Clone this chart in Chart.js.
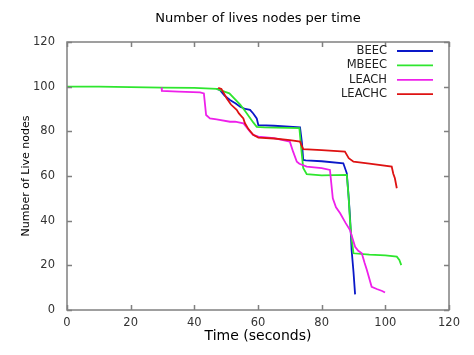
<!DOCTYPE html>
<html>
<head>
<meta charset="utf-8">
<script src="https://cdn.jsdelivr.net/npm/chart.js@4.4.1/dist/chart.umd.min.js"></script>
<style>
  html, body { margin: 0; padding: 0; background: #fff; }
  #wrap { width: 474px; height: 355px; }
</style>
</head>
<body>
<div id="wrap"><canvas id="c" width="474" height="355"></canvas></div>
<script>
// ---- data ----
const seriesNames = ["BEEC", "MBEEC", "LEACH", "LEACHC"];
const xTicks = [0, 20, 40, 60, 80, 100, 120];
const yTicks = [0, 20, 40, 60, 80, 100, 120];

const beecT = [47, 48, 49.5, 51.2, 53, 54.4, 56, 57.5, 58.5, 59.6, 60.1, 65, 73.2, 73.8, 74.2, 75, 80, 86.8, 87.9, 88.4, 88.9, 89.4, 90, 90.5];
const beecN = [99, 98.5, 96, 94, 92.5, 91, 90, 89.6, 88, 85.8, 82.8, 82.5, 81.8, 75, 67.2, 67, 66.6, 65.7, 61.2, 52, 41.8, 27, 17, 7];

const mbeecT = [0, 10, 20, 30, 40, 47, 49, 51, 54.4, 56, 58.5, 59.6, 62, 73, 73.6, 74.2, 75.3, 80, 87.9, 88.5, 88.9, 89.4, 90, 95, 100, 103.6, 104.4, 105];
const mbeecN = [100, 100, 99.8, 99.6, 99.5, 99, 98, 97, 92, 89, 84, 82, 81.8, 81.4, 72, 63.6, 60.8, 60.3, 60.5, 50, 40, 32, 25.4, 24.8, 24.5, 23.9, 22.4, 20.1];

const leachT = [29.7, 29.8, 35, 41.8, 43, 43.7, 44.9, 47, 51.2, 52.8, 55.4, 57.5, 58.5, 60.1, 65, 70, 71, 72.2, 73, 75.3, 80, 82.6, 83.5, 84.5, 85.8, 87.5, 88.9, 90.5, 91.5, 92.6, 93.5, 94.2, 95.7, 97.3, 99, 99.9];
const leachN = [99.6, 98.1, 97.8, 97.4, 97, 87.3, 85.8, 85.4, 84.3, 84.3, 83.6, 79.9, 78.4, 77.6, 77, 75.4, 71, 66.4, 65.5, 64.2, 63.5, 62.7, 50, 46, 43.3, 39, 35.8, 28.3, 26.5, 25.4, 21, 17.9, 10.4, 9.4, 8.5, 7.8];

const leachcT = [47.5, 48.5, 50.2, 51.5, 53.3, 54, 55.4, 55.9, 57, 58.5, 60.1, 65, 70, 73.2, 74.2, 80, 87.3, 88.5, 90, 95, 102, 102.5, 103, 103.6];
const leachcN = [99.5, 99, 94.7, 92, 89.6, 88, 85.8, 83.6, 81, 78.4, 77.2, 76.8, 76.1, 75.4, 72, 71.6, 70.9, 68, 66.4, 65.5, 64.2, 61, 59, 54.5];

const colors = ["#0a18c8", "#2ee62e", "#ee20ea", "#de1212"];

function pts(t, n) { return t.map((x, i) => ({ x: x, y: n[i] })); }

const allT = [beecT, mbeecT, leachT, leachcT];
const allN = [beecN, mbeecN, leachN, leachcN];

const datasets = seriesNames.map((name, i) => ({
  label: name,
  data: pts(allT[i], allN[i]),
  borderColor: colors[i],
  backgroundColor: colors[i],
  borderWidth: 1.8,
  pointRadius: 0,
  tension: 0,
  fill: false,
  showLine: true,
  order: 4 - i
}));

const FONT = "'DejaVu Sans', sans-serif";

const framePlugin = {
  id: 'frame',
  afterDraw(chart) {
    const ctx = chart.ctx;
    const a = chart.chartArea;
    const xs = chart.scales.x, ys = chart.scales.y;
    ctx.save();
    ctx.strokeStyle = '#808080';
    ctx.lineWidth = 1.5;
    ctx.strokeRect(a.left, a.top, a.right - a.left, a.bottom - a.top);
    ctx.beginPath();
    xTicks.forEach(v => {
      const px = Math.round(xs.getPixelForValue(v)) + 0.5;
      ctx.moveTo(px, a.bottom); ctx.lineTo(px, a.bottom - 5);
      ctx.moveTo(px, a.top); ctx.lineTo(px, a.top + 5);
    });
    yTicks.forEach(v => {
      const py = Math.round(ys.getPixelForValue(v)) + 0.5;
      ctx.moveTo(a.left, py); ctx.lineTo(a.left + 5, py);
      ctx.moveTo(a.right, py); ctx.lineTo(a.right - 5, py);
    });
    ctx.stroke();
    ctx.fillStyle = '#000';
    ctx.font = '13px ' + FONT;
    ctx.textAlign = 'center';
    ctx.textBaseline = 'middle';
    ctx.fillText('Number of lives nodes per time', (a.left + a.right) / 2, 19);
    ctx.font = '11.5px ' + FONT;
    ctx.textAlign = 'right';
    chart.data.datasets.forEach((ds, i) => {
      const y = 51 + i * 14.4;
      ctx.fillStyle = '#222';
      ctx.fillText(ds.label, 387, y);
      ctx.strokeStyle = ds.borderColor;
      ctx.lineWidth = 1.8;
      ctx.beginPath();
      ctx.moveTo(397, y); ctx.lineTo(433, y);
      ctx.stroke();
    });
    ctx.restore();
  }
};

new Chart(document.getElementById('c'), {
  type: 'scatter',
  data: { datasets: datasets },
  options: {
    responsive: false,
    animation: false,
    devicePixelRatio: 1,
    layout: { padding: { top: 42, right: 25, left: 0, bottom: 0 } },
    plugins: { legend: { display: false }, title: { display: false }, tooltip: { enabled: false } },
    scales: {
      x: {
        type: 'linear', min: 0, max: 120,
        afterBuildTicks: s => { s.ticks = xTicks.map(v => ({ value: v })); },
        afterFit: s => { s.height = 45; },
        grid: { display: false, drawTicks: false },
        border: { display: false },
        ticks: { color: '#333', font: { family: FONT, size: 11.5 }, padding: 6, maxRotation: 0 },
        title: { display: true, text: 'Time (seconds)', color: '#000', font: { family: FONT, size: 14 }, padding: { top: 0, bottom: 10 } }
      },
      y: {
        type: 'linear', min: 0, max: 120,
        afterBuildTicks: s => { s.ticks = yTicks.map(v => ({ value: v })); },
        afterFit: s => { s.width = 67; },
        grid: { display: false, drawTicks: false },
        border: { display: false },
        ticks: { color: '#333', font: { family: FONT, size: 11.5 }, padding: 12 },
        title: { display: true, text: 'Number of Live nodes', color: '#000', font: { family: FONT, size: 11 }, padding: { top: 20, bottom: 0 } }
      }
    }
  },
  plugins: [framePlugin]
});
</script>
</body>
</html>
